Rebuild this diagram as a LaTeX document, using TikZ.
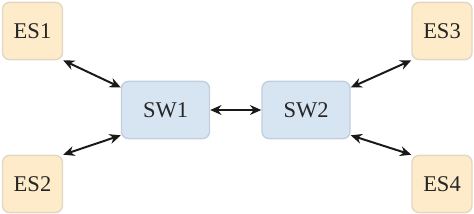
\documentclass[tikz,border=0pt]{standalone}
\usepackage{fontspec}
\setmainfont{Liberation Serif}
\usetikzlibrary{arrows.meta}
\definecolor{esfill}{HTML}{FDEBC9}
\definecolor{esdraw}{HTML}{E2D8C4}
\definecolor{swfill}{HTML}{D7E4F2}
\definecolor{swdraw}{HTML}{C2CFDF}
\begin{document}
\begin{tikzpicture}[x=0.025cm, y=-0.025cm, >={Stealth[length=8pt,width=7pt]},
    every node/.style={font=\fontsize{16}{18}\selectfont, text=black!85},
    esbox/.style={draw=esdraw, fill=esfill, rounded corners=5pt, line width=1pt, minimum width=1.5cm, minimum height=1.43cm},
    swbox/.style={draw=swdraw, fill=swfill, rounded corners=5pt, line width=1pt, minimum width=2.2cm, minimum height=1.43cm},
    link/.style={<->, line width=1.4pt, black!90}]
        \useasboundingbox (0,0) rectangle (474,213);

        \node[esbox] (es1) at (32.5,31) {ES1};
        \node[esbox] (es2) at (32.5,184) {ES2};
        \node[esbox] (es3) at (442,31) {ES3};
        \node[esbox] (es4) at (442,184) {ES4};

        \node[swbox] (sw1) at (165.5,110) {SW1};
        \node[swbox] (sw2) at (306,110) {SW2};

        \draw[link] (es1.south east) -- ([yshift=-0.17cm]sw1.north west);
        \draw[link] (es2.north east) -- ([yshift=0.1cm]sw1.south west);
        \draw[link] (sw1) -- (sw2);
        \draw[link] ([yshift=-0.17cm]sw2.north east) -- (es3.south west);
        \draw[link] ([yshift=0.1cm]sw2.south east) -- (es4.north west);
    \end{tikzpicture}
\end{document}
